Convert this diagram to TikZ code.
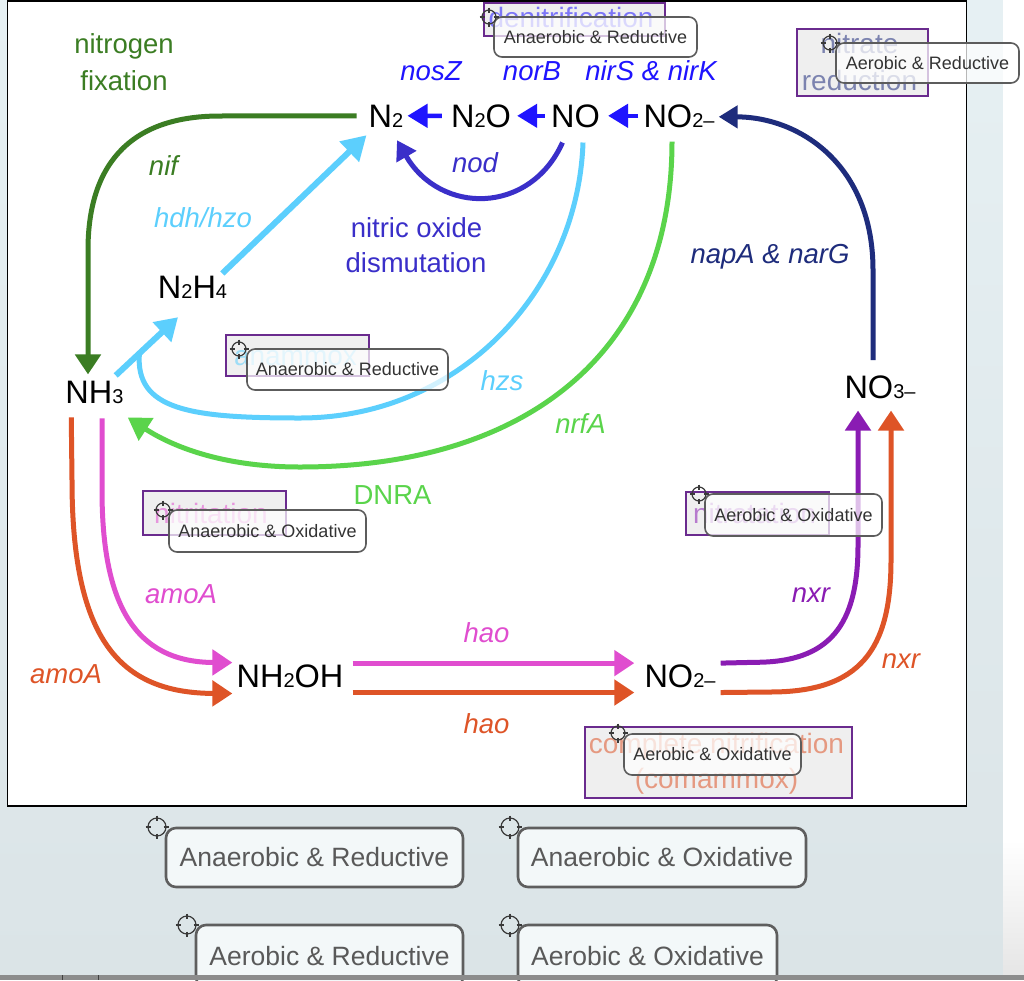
\documentclass[tikz,border=0pt]{standalone}
\usepackage{fontspec}
\setmainfont{Liberation Sans}
\usetikzlibrary{arrows.meta,calc}
\definecolor{bgtop}{HTML}{E6F0F3}
\definecolor{bgbot}{HTML}{DBE4E7}
\definecolor{fixg}{HTML}{3B7D23}
\definecolor{dnrag}{HTML}{5AD44B}
\definecolor{lblue}{HTML}{5CCFFD}
\definecolor{dblue}{HTML}{1F14FF}
\definecolor{nodc}{HTML}{3A2FC9}
\definecolor{navy}{HTML}{1E2C7C}
\definecolor{orng}{HTML}{DE5427}
\definecolor{pnk}{HTML}{E04DCF}
\definecolor{purp}{HTML}{8A1CB3}
\definecolor{boxc}{HTML}{6A2B8E}
\definecolor{boxfill}{HTML}{EFEFEF}
\definecolor{tagc}{HTML}{5C5C5C}
\definecolor{tagtext}{HTML}{333333}
\definecolor{btnc}{HTML}{5E5E5E}
\definecolor{btnfill}{HTML}{F3F8F9}
\definecolor{btntext}{HTML}{595959}
\definecolor{barc}{HTML}{8C8C8C}
\definecolor{xhc}{HTML}{3A3A3A}
\newcommand{\sbx}[1]{{\fontsize{20}{20}\selectfont #1}}
\newcommand{\xhair}[3]{%
  \draw[xhc,line width=1.2pt] (#1,#2) circle (#3pt);
  \draw[xhc,line width=1.2pt] (#1,#2-#3-2.5) -- (#1,#2-#3+2.5)
     (#1,#2+#3-2.5) -- (#1,#2+#3+2.5)
     (#1-#3-2.5,#2) -- (#1-#3+2.5,#2)
     (#1+#3-2.5,#2) -- (#1+#3+2.5,#2);}
\tikzset{
  chem/.style={font=\fontsize{32.5}{36}\selectfont, inner sep=0pt, anchor=base, text=black},
  lab/.style={font=\fontsize{27.5}{32}\selectfont, inner sep=0pt, anchor=base},
  gene/.style={font=\fontsize{27.5}{32}\selectfont\itshape, inner sep=0pt, anchor=base},
  boxtxt/.style={font=\fontsize{28}{32}\selectfont, inner sep=0pt, anchor=base, text opacity=0.55},
  lbox/.style={draw=boxc, line width=2pt, fill=boxfill},
  tag/.style={draw=tagc, line width=1.6pt, rounded corners=8pt, fill=white, fill opacity=0.72,
     text opacity=1, text=tagtext, font=\fontsize{18}{20}\selectfont, inner sep=0pt},
  btn/.style={draw=btnc, line width=2.6pt, rounded corners=10pt, fill=btnfill, text=btntext,
     font=\fontsize{26.5}{30}\selectfont, inner sep=0pt, minimum height=59pt},
  conn/.style={line width=5pt},
  bigtip/.style={-{Triangle[length=20pt,width=25pt]}},
  smalltip/.style={-{Triangle[length=20pt,width=23pt]}}
}
\begin{document}
\begin{tikzpicture}[x=1pt,y=-1pt]
\useasboundingbox (0,0) rectangle (1024,980);
% background
\shade[top color=bgtop,bottom color=bgbot] (0,0) rectangle (1003,975);
\fill[white] (1003,0) rectangle (1024,975);
\shade[top color=white,bottom color=black!10] (1003,840) rectangle (1024,975);
\draw[line width=1.6pt, fill=white] (7.5,0.8) rectangle (966.5,806);

% chemical species
\node[chem] (n2) at (386,127) {N\sbx{2}};
\node[chem] (n2o) at (481,127) {N\sbx{2}O};
\node[chem] (no) at (575.5,127) {NO};
\node[chem] (no2) at (679,127) {NO\sbx{2–}};
\node[chem] (n2h4) at (192.5,298) {N\sbx{2}H\sbx{4}};
\node[chem] (nh3) at (94.5,403) {NH\sbx{3}};
\node[chem] (no3) at (880,398) {NO\sbx{3–}};
\node[chem] (nh2oh) at (290,687) {NH\sbx{2}OH};
\node[chem] (no2b) at (680,687) {NO\sbx{2–}};

% nitrogen fixation
\draw[fixg, conn, bigtip] ($(n2.west)+(-12,0)$) -- (220,116) .. controls (125,116) and (88,170) .. (88,250) -- ($(nh3.north)+(-6.5,-6)$);
% denitrification chain
\draw[dblue, line width=4.5pt, smalltip] ($(n2o.west)+(-9,0)$) -- ($(n2.east)+(4,0)$);
\draw[dblue, line width=4.5pt, smalltip] ($(no.west)+(-6,0)$) -- ($(n2o.east)+(6,0)$);
\draw[dblue, line width=4.5pt, smalltip] ($(no2.west)+(-5,0)$) -- ($(no.east)+(8,0)$);
% nod
\draw[nodc, conn, -{Triangle[length=19pt,width=22pt]}] ($(no.south)+(-13,15)$) .. controls (530,215) and (440,215) .. ($(n2.south)+(11,13)$);
% anammox
\draw[lblue, line width=6pt, -{Triangle[length=24pt,width=27pt]}] ($(n2h4.north east)+(-5,-2)$) -- ($(n2.south west)+(-2,8)$);
\coordinate (a1) at ($(nh3.north east)+(-8,-5)$);
\coordinate (a2) at ($(n2h4.south)+(-14.5,19)$);
\coordinate (hzsend) at ($(a1)!0.38!(a2)$);
\draw[lblue, conn] ($(no.south)+(7.5,15)$) .. controls (578,290) and (460,418) .. (300,418) .. controls (190,418) and (135,410) .. (hzsend);
\draw[lblue, line width=6pt, -{Triangle[length=22pt,width=26pt]}] (a1) -- (a2);
% DNRA
\draw[dnrag, conn, -{Triangle[length=22pt,width=26pt]}] ($(no2.south)+(-7,14)$) .. controls (672,350) and (530,467) .. (300,467) .. controls (220,467) and (170,445) .. ($(nh3.south east)+(4,14)$);
% nitrate reduction
\draw[navy, conn, -{Triangle[length=19pt,width=22pt]}] ($(no3.north)+(-7,-15)$) -- (873,270) .. controls (873,165) and (800,117) .. ($(no2.east)+(4,1)$);
% amoA
\draw[orng, conn, bigtip] ($(nh3.south west)+(6,14)$) -- (72,480) .. controls (72,640) and (120,693) .. ($(nh2oh.south west)+(-4,6)$);
\draw[pnk, conn, bigtip] ($(nh3.south)+(7.5,15)$) -- (102,490) .. controls (102,605) and (135,662) .. ($(nh2oh.north west)+(-4,-1.5)$);
% hao
\draw[pnk, conn, bigtip] ($(nh2oh.north east)+(9,-1)$) -- ($(no2b.north west)+(-10,-1)$);
\draw[orng, conn, bigtip] ($(nh2oh.south east)+(9,5)$) -- ($(no2b.south west)+(-10,5)$);
% nxr
\draw[purp, conn, bigtip] ($(no2b.north east)+(5,-1)$) -- (755,662.3) .. controls (830,662.3) and (858,625) .. (858,545) -- ($(no3.south)+(-22,12)$);
\draw[orng, conn, bigtip] ($(no2b.south east)+(5,5)$) -- (770,692) .. controls (860,692) and (891,650) .. (891,560) -- ($(no3.south)+(11,12)$);

% labels
\node[lab, text=fixg] (lnit) at (124,53) {nitrogen};
\node[lab, text=fixg] (lfix) at (124,90) {fixation};
\node[gene, text=dblue] (lnosz) at (431,80) {nosZ};
\node[gene, text=dblue] (lnorb) at (532,80) {norB};
\node[gene, text=dblue] (lnir) at (651,80) {nirS \& nirK};
\node[gene, text=nodc] (lnod) at (475,172) {nod};
\node[gene, text=fixg] (lnif) at (163.5,175) {nif};
\node[gene, text=lblue] (lhdh) at (203,227) {hdh/hzo};
\node[lab, text=nodc] (lnox1) at (416.5,237) {nitric oxide};
\node[lab, text=nodc] (lnox2) at (416,272) {dismutation};
\node[gene, text=navy] (lnap) at (770,263) {napA \& narG};
\node[gene, text=lblue] (lhzs) at (502,390) {hzs};
\node[gene, text=dnrag] (lnrf) at (580.5,433) {nrfA};
\node[lab, text=dnrag] (ldnra) at (392.5,504) {DNRA};
\node[gene, text=pnk] (lamo1) at (181,603) {amoA};
\node[gene, text=orng] (lamo2) at (66,683) {amoA};
\node[gene, text=pnk] (lhao1) at (486.5,642) {hao};
\node[gene, text=orng] (lhao2) at (486.5,733) {hao};
\node[gene, text=purp] (lnxr1) at (811,602) {nxr};
\node[gene, text=orng] (lnxr2) at (901,668) {nxr};

% process label boxes
\draw[lbox] (483.5,3) rectangle (665,36);
\node[boxtxt, text=dblue] (bden) at (571,27) {denitrification};
\draw[lbox] (797,29) rectangle (928,96);
\node[boxtxt, text=navy] (bnr1) at (859.5,53) {nitrate};
\node[boxtxt, text=navy] (bnr2) at (859.5,90) {reduction};
\draw[lbox] (226,335) rectangle (369,376);
\node[boxtxt, text=lblue] (ban) at (295.5,365) {anammox};
\draw[lbox] (143,491) rectangle (286,535);
\node[boxtxt, text=pnk] (bni) at (211,523) {nitritation};
\draw[lbox] (686,492) rectangle (829,535);
\node[boxtxt, text=purp] (bna) at (754.5,523) {nitratation};
\draw[lbox] (585,727) rectangle (852,798);
\node[boxtxt, text=orng] (bco1) at (716.5,753) {complete nitrification};
\node[boxtxt, text=orng] (bco2) at (716.5,788) {(comammox)};

% answer tags
\node[tag, minimum width=203pt, minimum height=40pt] (tden) at (595.5,37) {Anaerobic \& Reductive};
\node[tag, minimum width=183pt, minimum height=40pt] (tnr) at (927.5,63) {Aerobic \& Reductive};
\node[tag, minimum width=201pt, minimum height=41pt] (tan) at (347.5,369.5) {Anaerobic \& Reductive};
\node[tag, minimum width=197pt, minimum height=42pt] (tni) at (267.5,531) {Anaerobic \& Oxidative};
\node[tag, minimum width=177pt, minimum height=42pt] (tna) at (793.5,515) {Aerobic \& Oxidative};
\node[tag, minimum width=177pt, minimum height=41pt] (tco) at (712.5,754.5) {Aerobic \& Oxidative};
\xhair{489}{17}{7}
\xhair{830}{43}{7}
\xhair{239}{349}{7}
\xhair{163}{510}{7}
\xhair{699}{494}{7}
\xhair{618}{733}{7}

% answer bank
\node[btn, minimum width=297pt] (b1) at (314.5,857.5) {Anaerobic \& Reductive};
\node[btn, minimum width=288pt] (b2) at (662,857.5) {Anaerobic \& Oxidative};
\node[btn, minimum width=267pt, minimum height=62pt] (b3) at (329.5,956) {Aerobic \& Reductive};
\node[btn, minimum width=259pt, minimum height=62pt] (b4) at (647.5,956) {Aerobic \& Oxidative};
\xhair{157}{827}{9}
\xhair{510}{827}{9}
\xhair{187}{925}{9}
\xhair{510}{925}{9}

% bottom bar
\fill[barc] (0,975) rectangle (1024,980);
\draw[black!75, line width=1pt] (62,975) -- (62,980) (98,975) -- (98,980);
\end{tikzpicture}
\end{document}
